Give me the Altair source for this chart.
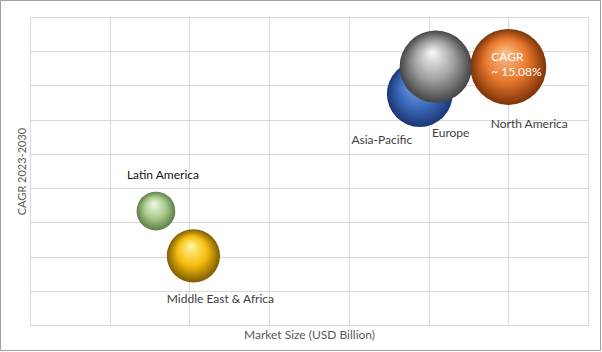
import altair as alt
import pandas as pd

# ---- data ----
regions = ["Latin America", "Middle East & Africa", "Asia-Pacific", "North America", "Europe"]
market_size = [1.58, 2.05, 4.89, 6.00, 5.09]        # x position (grid units)
cagr_pos = [3.33, 2.02, 6.75, 7.54, 7.55]            # y position (grid units)
bubble_value = [26, 49, 75, 100, 90]                 # relative bubble size
cagr_note = "CAGR\n~ 15.08%"

x_ticks = list(range(0, 8))
y_ticks = list(range(0, 10))

df = pd.DataFrame({"region": regions, "size": market_size, "cagr": cagr_pos, "bubble": bubble_value})

# ---- styles ----
sphere_colors = {
    "Latin America": ("#F2FAEA", "#A9CB8C", "#5D7F45"),
    "Middle East & Africa": ("#FFF6A0", "#F5BE0F", "#7E5C00"),
    "Asia-Pacific": ("#8DB0E8", "#3F6FC2", "#1B3673"),
    "North America": ("#FBC08F", "#EA7A2E", "#7E3207"),
    "Europe": ("#FAFAFA", "#A0A0A0", "#444444"),
}
label_offsets = {
    "Latin America": (7, -36, "#111111"),
    "Middle East & Africa": (27, 43, "#404040"),
    "Asia-Pacific": (-38, 46, "#404040"),
    "North America": (21, 57, "#404040"),
    "Europe": (15, 66, "#404040"),
}
FONT = "Lato"

x_axis = alt.Axis(values=x_ticks, grid=True, gridColor="#D9D9D9", gridWidth=1,
                  labels=False, ticks=False, domain=False,
                  title="Market Size (USD Billion)", titleFont=FONT, titleFontSize=12,
                  titleFontWeight="normal", titleColor="#595959", titlePadding=4)
y_axis = alt.Axis(values=y_ticks, grid=True, gridColor="#D9D9D9", gridWidth=1,
                  labels=False, ticks=False, domain=False,
                  title="CAGR 2023-2030", titleFont=FONT, titleFontSize=11,
                  titleFontWeight="normal", titleColor="#595959", titlePadding=3)

base = alt.Chart(df).encode(
    x=alt.X("size:Q", scale=alt.Scale(domain=[0, 7], nice=False, zero=False), axis=x_axis),
    y=alt.Y("cagr:Q", scale=alt.Scale(domain=[0, 9], nice=False, zero=False), axis=y_axis),
)

size_enc = alt.Size("bubble:Q", scale=alt.Scale(domain=[0, 100], range=[0, 5776]), legend=None)

layers = []
for r in regions:
    hi, mid, dark = sphere_colors[r]
    grad = alt.Gradient(
        gradient="radial",
        x1=0.45, y1=0.3, r1=0.0,
        x2=0.5, y2=0.5, r2=0.5,
        stops=[
            alt.GradientStop(color=hi, offset=0),
            alt.GradientStop(color=mid, offset=0.55),
            alt.GradientStop(color=dark, offset=1),
        ],
    )
    layers.append(
        base.transform_filter(alt.datum.region == r)
        .mark_point(shape="circle", filled=True, fill=grad, opacity=1, strokeWidth=0)
        .encode(size=size_enc)
    )

for r in regions:
    dx, dy, col = label_offsets[r]
    layers.append(
        base.transform_filter(alt.datum.region == r)
        .mark_text(dx=dx, dy=dy, font=FONT, fontSize=12, color=col, align="center", baseline="middle")
        .encode(text="region:N")
    )

layers.append(
    base.transform_filter(alt.datum.region == "North America")
    .transform_calculate(note=f"'{cagr_note.replace(chr(10), '\\n')}'")
    .mark_text(dx=-17, dy=-10, font=FONT, fontSize=12, color="#FFFFFF", align="left",
               baseline="middle", lineBreak="\n", lineHeight=15)
    .encode(text="note:N")
)

border = alt.Chart(alt.Data(values=[{}])).mark_rect(
    fill=None, stroke="#A0A0A0", strokeWidth=1
).encode(x=alt.value(-29.5), x2=alt.value(570.5), y=alt.value(-16.5), y2=alt.value(333.5))

chart = alt.layer(border, *layers).properties(
    width=558, height=308,
    padding={"left": 30, "top": 17, "right": 14, "bottom": 27},
    autosize=alt.AutoSizeParams(type="none"),
    background="#FFFFFF",
).configure_view(stroke="#D9D9D9", strokeWidth=1)

chart.save("out.html", embed_options={"renderer": "svg", "actions": False})
